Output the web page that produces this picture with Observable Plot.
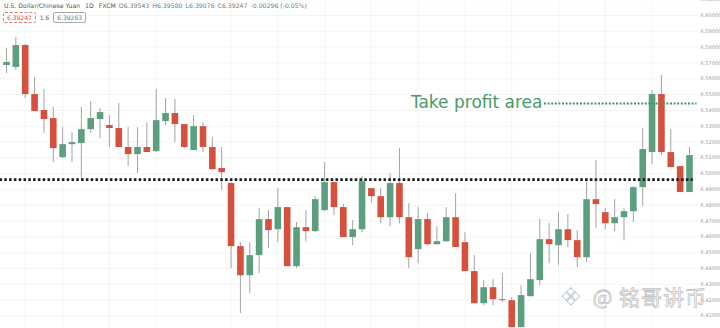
<!DOCTYPE html>
<html><head><meta charset="utf-8">
<script src="https://cdn.jsdelivr.net/npm/d3@7"></script>
<script src="https://cdn.jsdelivr.net/npm/@observablehq/plot@0.6"></script>
<style>
body{margin:0;background:#fff;}
#wrap{position:relative;width:720px;height:328px;overflow:hidden;font-family:"DejaVu Sans",sans-serif;}
#wrap svg{position:absolute;left:0;top:0;}
.hdr{position:absolute;left:4px;top:2px;font-size:6.2px;color:#555;white-space:nowrap;}
.hdr span{margin-right:3px;}
.row2{position:absolute;left:3px;top:12px;font-size:6px;color:#666;white-space:nowrap;}
.box{display:inline-block;padding:1px 3px;border-radius:2px;}
.wm{position:absolute;left:560px;top:281px;font-family:"Noto Sans CJK SC",sans-serif;font-size:21px;color:rgba(255,255,255,0.85);-webkit-text-stroke:0.8px rgba(140,140,140,0.55);white-space:nowrap;letter-spacing:1px;}
</style></head><body>
<div id="wrap"></div>
<script>
// ---- data ----
const opens  = [6.5684,6.5671,6.5810,6.5500,6.5399,6.5348,6.5101,6.5183,6.5190,6.5278,6.5342,6.5304,6.5285,6.5165,6.5120,6.5165,6.5139,6.5329,6.5380,6.5310,6.5146,6.5297,6.5165,6.5032,6.4937,6.4538,6.4354,6.4481,6.4709,6.4645,6.4785,6.4411,6.4658,6.4633,6.4766,6.4943,6.4785,6.4595,6.4645,6.4905,6.4854,6.4721,6.4937,6.4721,6.4519,6.4709,6.4550,6.4569,6.4721,6.4563,6.4380,6.4177,6.4278,6.4202,6.4196,6.4025,6.4221,6.4323,6.4582,6.4544,6.4645,6.4576,6.4468,6.4835,6.4753,6.4683,6.4721,6.4759,6.4911,6.5133,6.5500,6.5133,6.5044,6.4880];
const highs  = [6.5791,6.5861,6.5817,6.5608,6.5532,6.5418,6.5291,6.5259,6.5418,6.5456,6.5411,6.5367,6.5443,6.5291,6.5291,6.5323,6.5532,6.5475,6.5468,6.5310,6.5367,6.5323,6.5228,6.5165,6.4943,6.4563,6.4563,6.4778,6.4766,6.4905,6.4785,6.4690,6.4766,6.4854,6.5070,6.4949,6.4804,6.4702,6.4981,6.4905,6.4905,6.5000,6.5158,6.4810,6.4785,6.4747,6.4664,6.4785,6.4873,6.4626,6.4481,6.4323,6.4329,6.4367,6.4215,6.4291,6.4494,6.4709,6.4683,6.4753,6.4740,6.4639,6.4962,6.5082,6.4778,6.4835,6.4778,6.4918,6.5285,6.5525,6.5620,6.5278,6.5044,6.5165];
const lows   = [6.5633,6.5652,6.5475,6.5392,6.5253,6.5070,6.5095,6.5070,6.4956,6.5253,6.5221,6.5165,6.5165,6.5044,6.5000,6.5133,6.5133,6.5304,6.5196,6.5158,6.5146,6.5133,6.5019,6.4892,6.4399,6.4114,6.4240,6.4367,6.4525,6.4563,6.4411,6.4399,6.4569,6.4626,6.4759,6.4734,6.4595,6.4544,6.4626,6.4816,6.4683,6.4664,6.4683,6.4399,6.4430,6.4544,6.4550,6.4563,6.4532,6.4380,6.4177,6.4164,6.4164,6.4183,6.4025,6.4025,6.4221,6.4291,6.4430,6.4418,6.4532,6.4405,6.4437,6.4652,6.4645,6.4633,6.4576,6.4690,6.4791,6.5057,6.5114,6.5038,6.4880,6.4880];
const closes = [6.5703,6.5810,6.5500,6.5392,6.5342,6.5158,6.5183,6.5196,6.5278,6.5348,6.5386,6.5285,6.5165,6.5120,6.5165,6.5133,6.5335,6.5380,6.5310,6.5165,6.5297,6.5165,6.5025,6.5006,6.4538,6.4354,6.4481,6.4709,6.4639,6.4785,6.4411,6.4658,6.4633,6.4835,6.4943,6.4785,6.4595,6.4645,6.4949,6.4854,6.4721,6.4937,6.4721,6.4468,6.4709,6.4550,6.4569,6.4721,6.4532,6.4380,6.4177,6.4278,6.4202,6.4196,6.4025,6.4228,6.4329,6.4582,6.4550,6.4645,6.4576,6.4468,6.4835,6.4804,6.4683,6.4721,6.4759,6.4911,6.5152,6.5500,6.5133,6.5038,6.4880,6.5114];
const yTickValues = [6.40,6.41,6.42,6.43,6.44,6.45,6.46,6.47,6.48,6.49,6.50,6.51,6.52,6.53,6.54,6.55,6.56,6.57,6.58,6.59,6.60,6.61];
const gridIdx = [2,6,11,16,24,29,34,39,44,49,54,59,64,69];
const supportLevel = 6.4962;
const supportSpan = [-0.7, 73.4];
const takeProfitLevel = 6.5443;
const takeProfitSpan = [57.5, 73.8];
const takeProfitLabel = "Take profit area";
const symbolName = "U.S. Dollar/Chinese Yuan";
const interval = "1D";
const source = "FXCM";
const ohlcText = ["O6.39543","H6.39580","L6.39076","C6.39247","-0.00296 (-0.05%)"];
const bidText = "6.39247", spreadText = "1.6", askText = "6.39263";
const watermark = "@ 铭哥讲币";

const green = "#5c9f7f", red = "#d6503e";
const candles = opens.map((o,i)=>({i, open:o, high:highs[i], low:lows[i], close:closes[i]}));

const chart = Plot.plot({
  width:720, height:328, marginLeft:0, marginRight:30, marginTop:0, marginBottom:0,
  x:{domain:[0,73], range:[6,689], axis:null},
  y:{domain:[6.402,6.6095], axis:null},
  style:{background:"#fff", fontFamily:"DejaVu Sans, sans-serif", fontSize:"5px", color:"#999", overflow:"visible"},
  marks:[
    Plot.ruleY(yTickValues,{y:d=>d, x1:supportSpan[0]-1, x2:74.2, stroke:"#000", strokeOpacity:0.045}),
    Plot.ruleX(gridIdx,{x:d=>d, stroke:"#000", strokeOpacity:0.045}),
    Plot.axisY({ticks:yTickValues, anchor:"right", tickSize:0, tickPadding:10, tickFormat:d3.format(".5f"), label:null, fill:"#9a9a9a", fontSize:5}),
    Plot.ruleX(candles,{x:"i", y1:"low", y2:"high", stroke:"#a3a3a3", strokeWidth:1}),
    Plot.ruleX(candles,{x:"i", y1:"open", y2:"close", stroke:d=>d.close>=d.open?green:red, strokeWidth:6.6}),
    Plot.ruleY([supportLevel],{x1:supportSpan[0], x2:supportSpan[1], stroke:"#1e1e1e", strokeWidth:2.6, strokeDasharray:"2.6,2.2"}),
    Plot.ruleY([takeProfitLevel],{x1:takeProfitSpan[0], x2:takeProfitSpan[1], stroke:"#3f9464", strokeWidth:2, strokeDasharray:"2,1.6"}),
    Plot.text([takeProfitLabel],{x:takeProfitSpan[0], y:takeProfitLevel, text:d=>d, textAnchor:"end", dx:-2, dy:-1.5, fill:"#4a9a6c", fontSize:17, fontFamily:"DejaVu Sans", letterSpacing:"0.3px"})
  ]
});
const wrap = document.getElementById("wrap");
wrap.appendChild(chart);

const hdr = document.createElement("div");
hdr.className = "hdr";
hdr.innerHTML = `<span>${symbolName}</span><span>&nbsp;${interval}</span><span>&nbsp;${source}</span>` + ohlcText.map(t=>`<span style="color:#777">${t}</span>`).join("");
wrap.appendChild(hdr);

const row2 = document.createElement("div");
row2.className = "row2";
row2.innerHTML = `<span class="box" style="border:1px dashed #e07a6e;color:#d9503e">${bidText}</span> <span style="margin:0 2px">${spreadText}</span> <span class="box" style="border:1px solid #aaa;color:#777">${askText}</span>`;
wrap.appendChild(row2);

const wm = document.createElement("div");
wm.className = "wm";
wm.innerHTML = `<span style="font-family:'DejaVu Sans';font-size:24px;margin-right:10px">❖</span>${watermark}`;
wrap.appendChild(wm);
</script>
</body></html>
